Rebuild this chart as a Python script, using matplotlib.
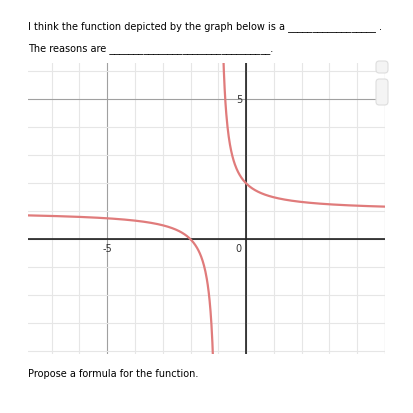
import matplotlib
matplotlib.use("Agg")
import matplotlib.pyplot as plt
import numpy as np
from matplotlib.patches import FancyBboxPatch

# f(x) = 1 + 1/(x + 1)
asym_x = -1.0
asym_y = 1.0
x_range = (-7.85, 5.0)
y_range = (-4.1, 6.3)

W = 414
fig = plt.figure(figsize=(4.14, 4.14), dpi=100)
ax = fig.add_axes([28 / W, (W - 355) / W, (385 - 28) / W, (355 - 64) / W])
ax.set_xlim(*x_range)
ax.set_ylim(*y_range)
for s in ax.spines.values():
    s.set_visible(False)
ax.set_xticks([])
ax.set_yticks([])

for gx in range(-7, 6):
    ax.axvline(gx, color="#e6e6e6" if gx % 5 else "#a0a0a0", lw=0.8, zorder=0)
for gy in range(-4, 7):
    ax.axhline(gy, color="#e6e6e6" if gy % 5 else "#a0a0a0", lw=0.8, zorder=0)
ax.axhline(0, color="#222222", lw=1.2, zorder=1)
ax.axvline(0, color="#222222", lw=1.2, zorder=1)

ax.text(-5, -0.15, "-5", ha="center", va="top", fontsize=7, color="#333333")
ax.text(-0.15, -0.15, "0", ha="right", va="top", fontsize=7, color="#333333")
ax.text(-0.12, 5, "5", ha="right", va="center", fontsize=7, color="#333333")

xl = np.linspace(x_range[0], asym_x - 0.18, 400)
xr = np.linspace(asym_x + 0.17, x_range[1], 400)
ax.plot(xl, asym_y + 1 / (xl - asym_x), color="#e07b7b", lw=1.6, zorder=2)
ax.plot(xr, asym_y + 1 / (xr - asym_x), color="#e07b7b", lw=1.6, zorder=2)

for y0, h in [(62, 12), (80, 26)]:
    fig.patches.append(FancyBboxPatch((376 / W, (W - y0 - h) / W), 12 / W, h / W,
                                      boxstyle="round,pad=0,rounding_size=0.008",
                                      transform=fig.transFigure, fc="#f4f4f4",
                                      ec="#dddddd", lw=0.8))

fig.text(28 / W, 1 - 27 / W, "I think the function depicted by the graph below is a "
         + "_" * 18 + " .", fontsize=7, va="center")
fig.text(28 / W, 1 - 49 / W, "The reasons are " + "_" * 33 + ".", fontsize=7, va="center")
fig.text(28 / W, 1 - 374 / W, "Propose a formula for the function.", fontsize=7, va="center")

fig.savefig("out.png", dpi=100)
